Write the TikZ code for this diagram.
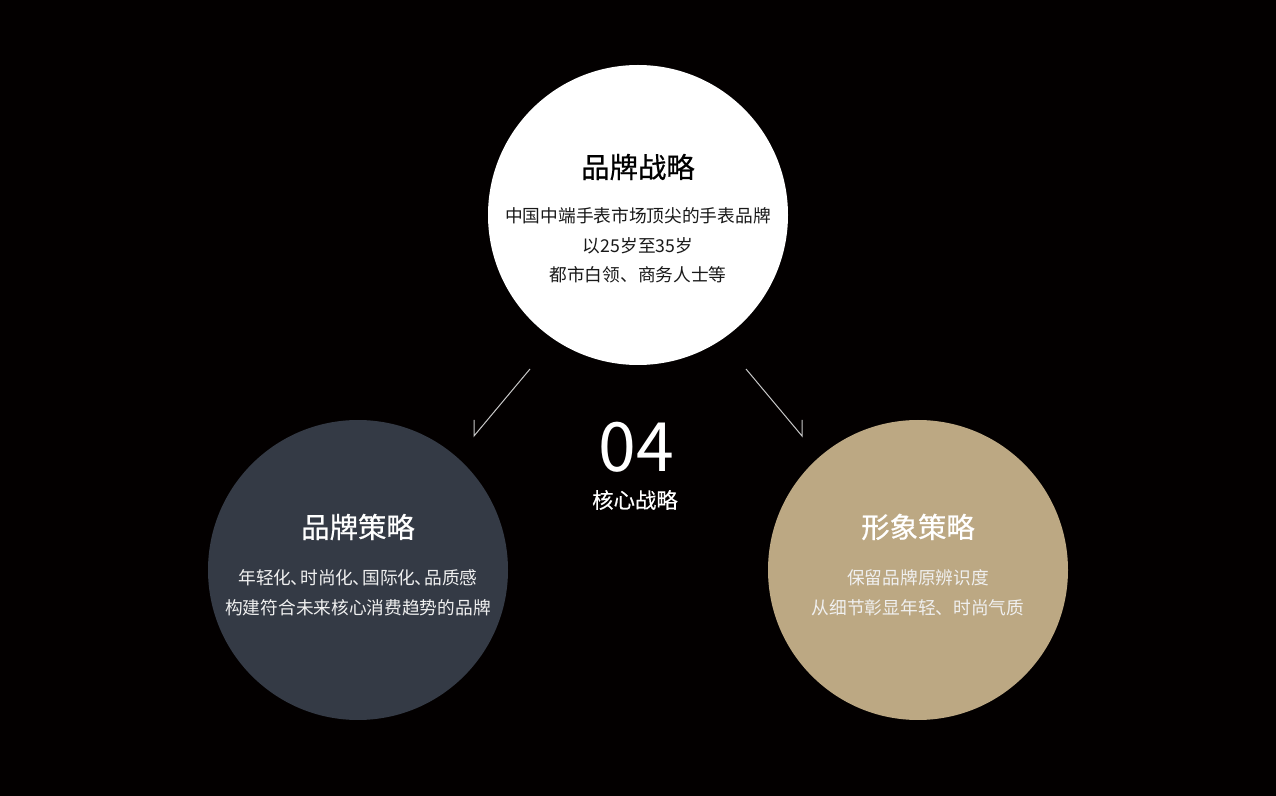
\documentclass[tikz,border=0pt]{standalone}
\usepackage{fontspec}
\setmainfont{Noto Sans CJK SC}
\usepackage{tikz}

\definecolor{bgblack}{HTML}{030000}
\definecolor{slate}{HTML}{343A45}
\definecolor{sand}{HTML}{BCA883}
\definecolor{arrowgray}{HTML}{C8C8C8}

% narrow comma
\newcommand{\dun}{\kern-0.04em、\kern-0.46em}

\begin{document}
\begin{tikzpicture}[x=0.5pt, y=-0.5pt,
    disc/.style={circle, minimum size=150pt, inner sep=0pt},
    title/.style={font=\fontsize{14.2}{17}\selectfont\addfontfeature{FakeBold=0.6}},
    body/.style={align=center, font=\fontsize{8.85}{14.8}\selectfont},
    pointer/.style={arrowgray, line width=0.5pt}]
    % background
    \fill[bgblack] (0,0) rectangle (1276,796);
    \useasboundingbox (0,0) rectangle (1276,796);

    % circles
    \node[disc, fill=white] (brand) at (638,215) {};
    \node[disc, fill=slate] (policy) at (358,570) {};
    \node[disc, fill=sand] (image) at (918,570) {};

    % top circle
    \node[title, black] (brandtitle) at (638,167) {品牌战略};
    \node[body, black!90] (brandtext) at (638,245.5) {中国中端手表市场顶尖的手表品牌\\以25岁至35岁\\都市白领、商务人士等};

    % left circle
    \node[title, white] (policytitle) at (358,527) {品牌策略};
    \node[body, white!94!black] (policytext) at (358,592.5) {年轻化\dun 时尚化\dun 国际化\dun 品质感\\构建符合未来核心消费趋势的品牌};

    % right circle
    \node[title, white] (imagetitle) at (918,527) {形象策略};
    \node[body, white!94!black] (imagetext) at (918,592.5) {保留品牌原辨识度\\从细节彰显年轻、时尚气质};

    % center
    \node[white, font=\fontsize{34}{34}\selectfont] (num) at (636,447) {04};
    \node[white, font=\fontsize{10.7}{13}\selectfont\addfontfeature{FakeBold=0.3}] (core) at (635,500) {核心战略};

    % pointers
    \coordinate (lstart) at (530,369);
    \coordinate (ltip) at (474,436);
    \coordinate (rstart) at (746,369);
    \coordinate (rtip) at (802,436);
    \draw[pointer] (lstart) -- (ltip) -- ++(0,-16);
    \draw[pointer] (rstart) -- (rtip) -- ++(0,-16);
\end{tikzpicture}
\end{document}
